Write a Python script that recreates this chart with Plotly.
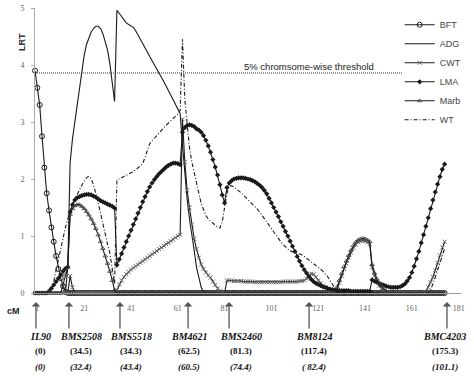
import plotly.graph_objects as go

# ---------------- data ----------------
cm = list(range(176))  # map position, cM

bft = [
    3.9, 3.6, 3.3, 2.75, 2.2, 1.75, 1.45, 1.15, 0.9, 0.65,
    0.42, 0.26, 0.12, 0.02, 0, 0, 0, 0, 0, 0,
    0, 0, 0, 0, 0, 0, 0, 0, 0, 0,
    0, 0, 0, 0, 0, 0, 0, 0, 0, 0,
    0, 0, 0, 0, 0, 0, 0, 0, 0, 0,
    0, 0, 0, 0, 0, 0, 0, 0, 0, 0,
    0, 0, 0, 0, 0, 0, 0, 0, 0, 0,
    0, 0, 0, 0, 0, 0, 0, 0, 0, 0,
    0, 0, 0, 0, 0, 0, 0, 0, 0, 0,
    0, 0, 0, 0, 0, 0, 0, 0, 0, 0,
    0, 0, 0, 0, 0, 0, 0, 0, 0, 0,
    0, 0, 0, 0, 0, 0, 0, 0, 0, 0,
    0, 0, 0, 0, 0, 0, 0, 0, 0, 0,
    0, 0, 0, 0, 0, 0, 0, 0, 0, 0,
    0, 0, 0, 0, 0, 0, 0, 0, 0, 0,
    0, 0, 0, 0, 0, 0, 0, 0, 0, 0,
    0, 0, 0, 0, 0, 0, 0, 0, 0, 0,
    0, 0, 0, 0, 0, 0,
]

adg = [
    0, 0, 0, 0, 0, 0, 0, 0, 0, 0,
    0, 0, 0, 0, 0.45, 2.28, 2.7, 3.0, 3.32, 3.65,
    3.95, 4.17, 4.36, 4.49, 4.58, 4.64, 4.68, 4.68, 4.64, 4.55,
    4.42, 4.26, 4.02, 3.72, 3.36, 4.96, 4.9, 4.84, 4.79, 4.74,
    4.71, 4.69, 4.66, 4.6, 4.53, 4.46, 4.39, 4.31, 4.23, 4.15,
    4.08, 4.01, 3.94, 3.87, 3.79, 3.71, 3.63, 3.55, 3.47, 3.39,
    3.31, 3.23, 3.15, 2.6, 2.1, 1.65, 1.3, 1.05, 0.75, 0.45,
    0.25, 0.1, 0.02, 0, 0, 0, 0, 0, 0, 0,
    0, 0, 0, 0, 0, 0, 0, 0, 0, 0,
    0, 0, 0, 0, 0, 0, 0, 0, 0, 0,
    0, 0, 0, 0, 0, 0, 0, 0, 0, 0,
    0, 0, 0, 0, 0, 0, 0, 0, 0, 0,
    0, 0, 0, 0, 0, 0, 0, 0, 0, 0,
    0, 0, 0, 0, 0, 0, 0, 0, 0, 0,
    0, 0, 0, 0, 0, 0, 0, 0, 0, 0,
    0, 0, 0, 0, 0, 0, 0, 0, 0, 0,
    0, 0, 0, 0, 0, 0, 0, 0, 0, 0,
    0, 0, 0, 0, 0, 0,
]

cwt = [
    0, 0, 0, 0, 0, 0, 0, 0, 0, 0,
    0, 0, 0, 0, 0, 0.3, 0.1, 0, 0, 0,
    0, 0, 0, 0, 0, 0, 0, 0, 0, 0,
    0, 0, 0, 0, 0, 0.05, 0.15, 0.22, 0.28, 0.33,
    0.37, 0.41, 0.44, 0.47, 0.5, 0.53, 0.56, 0.59, 0.62, 0.65,
    0.68, 0.71, 0.74, 0.77, 0.8, 0.83, 0.86, 0.88, 0.91, 0.94,
    0.97, 1.0, 1.02, 3.05, 2.3, 1.8, 1.5, 1.2, 0.95, 0.77,
    0.62, 0.5, 0.42, 0.36, 0.31, 0.27, 0.2, 0.14, 0.08, 0.04,
    0.01, 0, 0.22, 0.22, 0.22, 0.21, 0.21, 0.21, 0.21, 0.2,
    0.2, 0.2, 0.2, 0.2, 0.19, 0.19, 0.19, 0.19, 0.19, 0.19,
    0.19, 0.19, 0.19, 0.19, 0.19, 0.19, 0.2, 0.2, 0.2, 0.2,
    0.2, 0.2, 0.2, 0.21, 0.21, 0.22, 0.25, 0.3, 0.34, 0.33,
    0.28, 0.22, 0.17, 0.13, 0.1, 0.07, 0.05, 0.03, 0.01, 0.05,
    0.18, 0.3, 0.42, 0.52, 0.62, 0.71, 0.79, 0.85, 0.89, 0.91,
    0.92, 0.91, 0.89, 0.86, 0.45, 0.3, 0.2, 0.13, 0.08, 0.04,
    0.01, 0, 0, 0, 0, 0, 0, 0, 0, 0,
    0, 0, 0, 0, 0, 0, 0, 0.02, 0.1, 0.19,
    0.28, 0.4, 0.53, 0.66, 0.8, 0.9,
]

lma = [
    0, 0, 0, 0, 0, 0, 0.03, 0.08, 0.14, 0.2,
    0.26, 0.32, 0.38, 0.43, 0.46, 1.42, 1.55, 1.63, 1.67, 1.69,
    1.71, 1.72, 1.73, 1.73, 1.72, 1.7, 1.68, 1.65, 1.62, 1.6,
    1.58, 1.56, 1.54, 1.52, 1.49, 0.49, 0.59, 0.69, 0.8, 0.9,
    1.0, 1.1, 1.2, 1.3, 1.4, 1.5, 1.6, 1.69, 1.78, 1.86,
    1.93, 1.99, 2.04, 2.09, 2.13, 2.17, 2.21, 2.24, 2.26, 2.28,
    2.28, 2.27, 2.25, 2.82, 2.9, 2.94, 2.95, 2.94, 2.92, 2.88,
    2.86, 2.82, 2.76, 2.68, 2.58, 2.47, 2.34, 2.21, 2.07, 1.9,
    1.72, 1.58, 1.85, 1.93, 1.97, 2.0, 2.01, 2.02, 2.02, 2.02,
    2.01, 2.0, 1.99, 1.97, 1.95, 1.92, 1.89, 1.85, 1.8, 1.74,
    1.66, 1.58, 1.5, 1.42, 1.34, 1.25, 1.17, 1.08, 1.0, 0.91,
    0.82, 0.73, 0.64, 0.56, 0.48, 0.41, 0.35, 0.29, 0.24, 0.2,
    0.17, 0.15, 0.13, 0.11, 0.1, 0.08, 0.07, 0.06, 0.05, 0.04,
    0.04, 0.04, 0.04, 0.04, 0.04, 0.03, 0.03, 0.03, 0.03, 0.03,
    0.03, 0.03, 0.03, 0.03, 0.23, 0.21, 0.19, 0.17, 0.15, 0.14,
    0.12, 0.11, 0.1, 0.1, 0.1, 0.1, 0.11, 0.13, 0.16, 0.21,
    0.27, 0.36, 0.47, 0.6, 0.73, 0.88, 1.02, 1.17, 1.32, 1.48,
    1.63, 1.77, 1.91, 2.04, 2.17, 2.26,
]

marb = [
    0, 0, 0, 0, 0, 0, 0, 0, 0, 0,
    0, 0, 0.15, 0.32, 0.45, 1.38, 1.48, 1.53, 1.55, 1.55,
    1.52, 1.48, 1.43, 1.37, 1.3, 1.22, 1.13, 1.02, 0.9, 0.78,
    0.65, 0.52, 0.38, 0.22, 0.05, 0, 0, 0, 0, 0,
    0, 0, 0, 0, 0, 0, 0, 0, 0, 0,
    0, 0, 0, 0, 0, 0, 0, 0, 0, 0,
    0, 0, 0, 0, 0, 0, 0, 0, 0, 0,
    0, 0, 0, 0, 0, 0, 0, 0, 0, 0,
    0, 0, 0, 0, 0, 0, 0, 0, 0, 0,
    0, 0, 0, 0, 0, 0, 0, 0, 0, 0,
    0, 0, 0, 0, 0, 0, 0, 0, 0, 0,
    0, 0, 0, 0, 0, 0, 0, 0, 0, 0,
    0, 0, 0, 0, 0, 0, 0, 0, 0, 0.1,
    0.22, 0.34, 0.46, 0.56, 0.66, 0.75, 0.83, 0.89, 0.93, 0.95,
    0.96, 0.95, 0.93, 0.9, 0.5, 0.35, 0.25, 0.18, 0.12, 0.07,
    0.03, 0, 0, 0, 0, 0, 0, 0, 0, 0,
    0, 0, 0, 0, 0, 0, 0, 0, 0, 0,
    0, 0, 0, 0, 0, 0,
]

wt = [
    0, 0, 0, 0, 0, 0, 0, 0.05, 0.2, 0.4,
    0.6, 0.8, 0.98, 1.15, 1.3, 1.43, 1.54, 1.64, 1.73, 1.81,
    1.89, 1.96, 2.02, 2.05, 2.0, 1.9, 1.75, 1.58, 1.4, 1.2,
    1.02, 0.85, 0.7, 0.45, 0.15, 1.98, 2.0, 2.02, 2.04, 2.06,
    2.08, 2.1, 2.13, 2.16, 2.2, 2.23, 2.27, 2.38, 2.5, 2.62,
    2.67, 2.72, 2.76, 2.8, 2.85, 2.9, 2.94, 2.98, 3.02, 3.06,
    3.1, 3.14, 3.2, 4.45, 3.4, 2.9, 2.55, 2.3, 2.1, 1.95,
    1.75, 1.57, 1.45, 1.36, 1.3, 1.26, 1.22, 1.19, 1.16, 1.14,
    1.25, 1.5, 1.75, 1.88, 1.88, 1.86, 1.83, 1.8, 1.76, 1.72,
    1.68, 1.64, 1.6, 1.56, 1.52, 1.47, 1.42, 1.36, 1.3, 1.24,
    1.18, 1.12, 1.06, 1.0, 0.95, 0.9, 0.85, 0.8, 0.77, 0.74,
    0.72, 0.71, 0.7, 0.69, 0.67, 0.64, 0.61, 0.58, 0.55, 0.52,
    0.49, 0.46, 0.42, 0.38, 0.34, 0.29, 0.22, 0.15, 0.08, 0.03,
    0, 0, 0, 0, 0, 0, 0, 0, 0, 0,
    0, 0, 0, 0, 0, 0, 0, 0, 0, 0,
    0, 0, 0, 0, 0, 0, 0, 0, 0, 0,
    0, 0, 0, 0, 0, 0, 0, 0, 0, 0.05,
    0.15, 0.27, 0.4, 0.53, 0.66, 0.78,
]

threshold = 3.86
threshold_label = "5% chromsome-wise threshold"

x_tick_vals = [1, 21, 41, 61, 81, 101, 121, 141, 161, 181]
x_tick_text = ["1", "21", "41", "61", "81", "101", "121", "141", "161", "181"]
y_tick_vals = [0, 1, 2, 3, 4, 5]

marker_names = ["IL90", "BMS2508", "BMS5518", "BM4621", "BMS2460", "BM8124", "BMC4203"]
marker_cm = [0.4, 14.5, 36.3, 65.4, 82.9, 117.1, 176.0]
map_pos_1 = ["(0)", "(34.5)", "(34.3)", "(62.5)", "(81.3)", "(117.4)", "(175.3)"]
map_pos_2 = ["(0)", "(32.4)", "(43.4)", "(60.5)", "(74.4)", "( 82.4)", "(101.1)"]

# ---------------- figure ----------------
fig = go.Figure()

ink = "#1a1a1a"
traces = [
    ("BFT", bft, "lines+markers", dict(symbol="circle-open", size=5, color=ink, line=dict(width=1, color=ink)), "solid"),
    ("ADG", adg, "lines", None, "solid"),
    ("CWT", cwt, "lines+markers", dict(symbol="x-thin", size=4, color="#666", line=dict(width=1, color="#666")), "solid"),
    ("LMA", lma, "lines+markers", dict(symbol="diamond", size=4, color=ink, line=dict(width=0)), "solid"),
    ("Marb", marb, "lines+markers", dict(symbol="triangle-up-open", size=4, color="#444", line=dict(width=0.8, color="#444")), "solid"),
    ("WT", wt, "lines", None, "4px,2px,1px,2px"),
]
for name, vals, mode, mk, dash in traces:
    kw = dict(x=cm, y=vals, name=name, mode=mode, cliponaxis=False,
              line=dict(color=ink, width=1.1, dash=dash))
    if mk is not None:
        kw["marker"] = mk
    fig.add_trace(go.Scatter(**kw))

# threshold line
fig.add_shape(type="line", xref="x", yref="y", x0=0, x1=157, y0=threshold, y1=threshold,
              line=dict(color="#333", width=1, dash="1px,1px"))

ann = []
ann.append(dict(text=threshold_label, xref="x", yref="y", x=117, y=threshold, yshift=6,
                xanchor="center", yanchor="middle",
                showarrow=False, font=dict(family="Liberation Sans", size=9.5, color="#222")))
ann.append(dict(text="<b>LRT</b>", xref="paper", yref="paper", x=0, xshift=-13, y=0.881,
                xanchor="center", yanchor="middle",
                textangle=-90, showarrow=False, font=dict(family="Liberation Sans", size=9, color="#333")))
ann.append(dict(text="<b>cM</b>", xref="paper", yref="paper", x=0, xshift=-22, y=-0.063,
                xanchor="center", yanchor="middle",
                showarrow=False, font=dict(family="Liberation Sans", size=9, color="#222")))

label_shift_px = [5, 12, 11, 1, 12, 5, -2]
for i, nm in enumerate(marker_names):
    ann.append(dict(text="", x=marker_cm[i], y=-0.032, ax=0, ay=28,
                    xref="x", yref="paper", axref="pixel", ayref="pixel", showarrow=True,
                    arrowhead=1, arrowsize=1.1, arrowwidth=1.3, arrowcolor="#555"))
    ann.append(dict(text="<b><i>" + nm + "</i></b>", x=marker_cm[i], xshift=label_shift_px[i],
                    y=-0.154, xref="x", yref="paper", xanchor="center", yanchor="middle",
                    showarrow=False, font=dict(family="Liberation Serif", size=10, color="#111")))
    ann.append(dict(text="<b>" + map_pos_1[i] + "</b>", x=marker_cm[i], xshift=label_shift_px[i],
                    y=-0.2035, xref="x", yref="paper", xanchor="center", yanchor="middle",
                    showarrow=False, font=dict(family="Liberation Serif", size=9, color="#111")))
    ann.append(dict(text="<b><i>" + map_pos_2[i] + "</i></b>", x=marker_cm[i], xshift=label_shift_px[i],
                    y=-0.26, xref="x", yref="paper", xanchor="center", yanchor="middle",
                    showarrow=False, font=dict(family="Liberation Serif", size=9, color="#111")))

fig.update_layout(
    width=474, height=377,
    margin=dict(l=35, r=13, t=8, b=84, autoexpand=False),
    plot_bgcolor="white", paper_bgcolor="white",
    showlegend=True,
    legend=dict(x=0.856, y=0.992, xanchor="left", yanchor="top",
                font=dict(family="Liberation Sans", size=9, color="#444"),
                itemwidth=30, bgcolor="rgba(0,0,0,0)", borderwidth=0,
                tracegroupgap=0),
    annotations=ann,
    xaxis=dict(range=[0, 182], showline=True, linecolor="#999", linewidth=1,
               tickvals=x_tick_vals, ticktext=x_tick_text, ticks="",
               ticklabelstandoff=7,
               tickfont=dict(family="Liberation Serif", size=8, color="#666"),
               showgrid=False, zeroline=False),
    yaxis=dict(range=[0, 5], showline=True, linecolor="#aaa", linewidth=1,
               tickvals=y_tick_vals, ticks="outside", ticklen=3, tickcolor="#aaa",
               ticklabelstandoff=5,
               tickfont=dict(family="Liberation Serif", size=8, color="#666"),
               showgrid=False, zeroline=False),
)

fig.write_html("out.html", config={"displayModeBar": False},
               post_script="document.body.style.margin='0';")
